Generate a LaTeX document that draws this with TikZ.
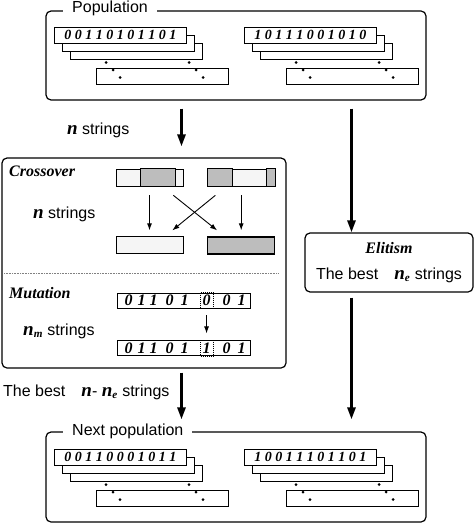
\documentclass[tikz,border=0pt]{standalone}
\usepackage{fontspec}
\setmainfont{Liberation Serif}
\setsansfont{Liberation Sans}
\usepackage{tikz}
\usetikzlibrary{arrows.meta, positioning, calc}

\newcommand{\nbold}{{\rmfamily\bfseries\itshape\fontsize{19}{19}\selectfont n}}
\newcommand{\nsub}[1]{\textsubscript{\rmfamily\bfseries\itshape #1}}

\begin{document}
\begin{tikzpicture}[
    x=1pt, y=-1pt,
    >=Latex,
    bigbox/.style={draw, line width=1.2pt, rounded corners=5pt, inner sep=0pt},
    boxtitle/.style={fill=white, inner xsep=9pt, inner ysep=2pt, font=\sffamily\fontsize{16}{16}\selectfont},
    head/.style={inner sep=0pt, font=\rmfamily\bfseries\itshape\fontsize{16}{16}\selectfont},
    lbl/.style={inner sep=0pt, font=\sffamily\fontsize{16}{18}\selectfont},
    bitstr/.style={draw, fill=white, line width=0.8pt, minimum width=132pt, minimum height=16pt,
        inner sep=0pt, font=\rmfamily\bfseries\itshape\fontsize{14}{14}\selectfont},
    strrect/.style={draw, fill=white, line width=0.8pt},
    stackdot/.style={fill=black},
    barlight/.style={draw, line width=0.7pt, fill=gray!8, minimum width=67pt, minimum height=17pt, inner sep=0pt},
    darkseg/.style={draw, line width=1.1pt, fill=gray!52},
    mutstr/.style={draw, line width=0.9pt, minimum width=133pt, minimum height=15pt, inner sep=0pt},
    bit/.style={inner sep=0pt, font=\rmfamily\bfseries\itshape\fontsize{16}{16}\selectfont},
    mutcell/.style={densely dotted, line width=1pt},
    sepline/.style={gray, line width=0.6pt, dash pattern=on 0.6pt off 1pt},
    bigarrow/.style={line width=2.6pt, -{Triangle[length=12pt,width=8pt]}},
    thinarrow/.style={line width=0.9pt, -{Latex[length=7pt,width=5pt]}}
]
\useasboundingbox (0,0) rectangle (474,524);

% frames
\node[bigbox, minimum width=380pt, minimum height=89pt] (pop) at (236,55.5) {};
\node[bigbox, minimum width=284pt, minimum height=210pt] (cross) at (144,263) {};
\node[bigbox, minimum width=168pt, minimum height=59pt, align=center,
      font=\sffamily\fontsize{16}{26}\selectfont] (elite) at (389,262.5)
    {{\rmfamily\bfseries\itshape Elitism}\\The best\quad\nbold\nsub{e} strings};
\node[bigbox, minimum width=380pt, minimum height=90pt] (next) at (236,477) {};

\node[boxtitle, anchor=base west] (poptitle) at (63,13) {Population};
\node[boxtitle, anchor=base west] (nexttitle) at (63,435) {Next population};

% string stacks
\foreach \sx/\sy/\bits [count=\k] in {54/27/{0 0 1 1 0 1 0 1 1 0 1}, 244/27/{1 0 1 1 1 0 0 1 0 1 0},
                                      54/449/{0 0 1 1 0 0 0 1 0 1 1}, 244/449/{1 0 0 1 1 1 0 1 1 0 1}} {
  \draw[strrect] (\sx+16,\sy+16) rectangle ++(132,16);
  \draw[strrect] (\sx+8,\sy+8) rectangle ++(132,16);
  \node[bitstr, anchor=north west] (bits\k) at (\sx,\sy) {\bits};
  \draw[strrect] (\sx+42,\sy+41) rectangle ++(132,16);
  \fill[stackdot] (\sx+52,\sy+35.5) circle (1.5pt) (\sx+59,\sy+43) circle (1.5pt) (\sx+66,\sy+50.5) circle (1.5pt);
  \fill[stackdot] (\sx+135,\sy+35.5) circle (1.5pt) (\sx+142,\sy+43) circle (1.5pt) (\sx+149,\sy+50.5) circle (1.5pt);
}

% crossover
\node[head, anchor=base west] (crosshead) at (9,176) {Crossover};
\node[lbl, anchor=base west] (crossn) at (33,218) {\nbold\ strings};
\node[barlight] (par1) at (149.5,177.5) {};
\node[barlight, right=24pt of par1] (par2) {};
\draw[darkseg] ([xshift=25pt]par1.north west) rectangle ([xshift=-8pt]par1.south east);
\draw[darkseg] (par2.north west) rectangle ([xshift=25pt]par2.south west);
\draw[darkseg] ([xshift=-9pt]par2.north east) rectangle (par2.south east);
\node[barlight, below=50pt of par1] (kid1) {};
\node[barlight, fill=gray!52, line width=1.2pt, below=50pt of par2] (kid2) {};
\draw[thinarrow] ([yshift=-9pt]par1.south) -- ([yshift=6pt]kid1.north);
\draw[thinarrow] ([yshift=-9pt]par2.south) -- ([yshift=6pt]kid2.north);
\draw[thinarrow] ([xshift=-10pt,yshift=-9pt]par1.south east) -- ([xshift=10pt,yshift=6pt]kid2.north west);
\draw[thinarrow] ([xshift=8pt,yshift=-9pt]par2.south west) -- ([xshift=-11pt,yshift=6pt]kid1.north east);

\coordinate (sepl) at (4,273);
\coordinate (sepr) at (278,273);
\draw[sepline] (sepl) -- (sepr);

% mutation
\node[head, anchor=base west] (muthead) at (9,298) {Mutation};
\node[lbl, anchor=base west] (mutn) at (23,335) {\nbold\nsub{m} strings};
\node[mutstr] (mut1) at (183.5,300.5) {};
\node[mutstr, below=32pt of mut1] (mut2) {};
\foreach \dx/\da/\db in {12/0/0, 25/1/1, 37/1/1, 53/0/0, 68/1/1, 90/0/1, 110/0/0, 125/1/1} {
  \node[bit] (up\dx) at ([xshift=\dx pt]mut1.west) {\da};
  \node[bit] (dn\dx) at ([xshift=\dx pt]mut2.west) {\db};
}
\draw[mutcell] ([xshift=84pt]mut1.north west) rectangle ([xshift=97pt]mut1.south west);
\draw[mutcell] ([xshift=84pt]mut2.north west) rectangle ([xshift=97pt]mut2.south west);
\draw[thinarrow] ([xshift=90pt,yshift=-7pt]mut1.south west) -- ([xshift=90pt,yshift=7pt]mut2.north west);

% flow
\coordinate (leftlane) at (181.5,0);
\coordinate (rightlane) at (351.5,0);
\node[lbl, anchor=base west] (nlbl) at (67,134) {\nbold\ strings};
\node[lbl, anchor=base west] (bestlbl) at (3,396) {The best\quad\nbold- \nbold\nsub{e} strings};
\draw[bigarrow] ($(pop.south -| leftlane)+(0,8)$) -- ($(cross.north -| leftlane)+(0,-11)$);
\draw[bigarrow] ($(pop.south -| rightlane)+(0,8)$) -- (elite.north -| rightlane);
\draw[bigarrow] ($(cross.south -| leftlane)+(0,4)$) -- ($(next.north -| leftlane)+(0,-12)$);
\draw[bigarrow] ($(elite.south -| rightlane)+(0,5)$) -- ($(next.north -| rightlane)+(0,-12)$);

\end{tikzpicture}
\end{document}
